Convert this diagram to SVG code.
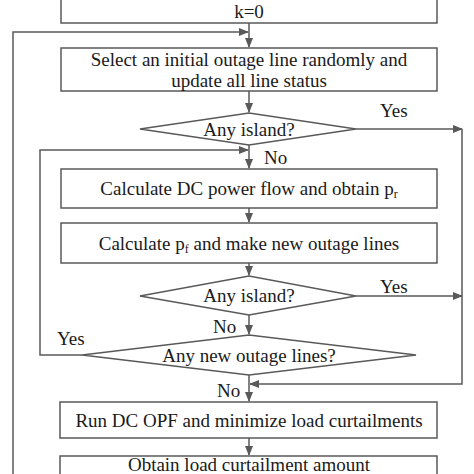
<svg xmlns="http://www.w3.org/2000/svg" width="474" height="474" viewBox="0 0 474 474">
<style>
.box{fill:#fff;stroke:#595959;stroke-width:1.5}
.ln{fill:none;stroke:#595959;stroke-width:1.5}
text{font-family:"Liberation Serif","Times New Roman",serif;font-size:19px;fill:#1a1a1a}
.c{text-anchor:middle}
</style>
<defs>
<marker id="ah" markerWidth="10" markerHeight="8" refX="9" refY="4" orient="auto" markerUnits="userSpaceOnUse">
<path d="M0,0 L10,4 L0,8 Z" fill="#595959"/>
</marker>
</defs>
<rect width="474" height="474" fill="#fff"/>
<g id="connectors">
<line class="ln" x1="249" y1="23" x2="249" y2="47" marker-end="url(#ah)"/>
<polyline class="ln" points="13,474 13,32 248,32" marker-end="url(#ah)"/>
<line class="ln" x1="249" y1="91" x2="249" y2="112" marker-end="url(#ah)"/>
<polyline class="ln" points="356,129 462,129" marker-end="url(#ah)"/>
<polyline class="ln" points="462,129 462,384 250,384" marker-end="url(#ah)"/>
<line class="ln" x1="249" y1="145" x2="249" y2="168" marker-end="url(#ah)"/>
<polyline class="ln" points="82,355 40,355 40,150 248,150" marker-end="url(#ah)"/>
<line class="ln" x1="249" y1="208" x2="249" y2="222" marker-end="url(#ah)"/>
<line class="ln" x1="249" y1="263" x2="249" y2="275" marker-end="url(#ah)"/>
<polyline class="ln" points="356,296 462,296" marker-end="url(#ah)"/>
<line class="ln" x1="249" y1="315" x2="249" y2="334" marker-end="url(#ah)"/>
<line class="ln" x1="249" y1="375" x2="249" y2="401" marker-end="url(#ah)"/>
<line class="ln" x1="249" y1="438" x2="249" y2="455" marker-end="url(#ah)"/>
<text x="380" y="117">Yes</text>
<text x="264" y="164">No</text>
<text x="380" y="293">Yes</text>
<text x="213" y="333">No</text>
<text x="57" y="345">Yes</text>
<text x="217" y="397">No</text>
</g>
<g id="n0">
<rect class="box" x="61" y="-10" width="376" height="33"/>
<text class="c" x="249" y="18">k=0</text>
</g>
<g id="n1">
<rect class="box" x="61" y="48" width="376" height="43"/>
<text class="c" x="249" y="66">Select an initial outage line randomly and</text>
<text class="c" x="249" y="87">update all line status</text>
</g>
<g id="d1">
<polygon class="box" points="140,129 249,113 356,129 249,145"/>
<text class="c" x="249" y="136">Any island?</text>
</g>
<g id="n2">
<rect class="box" x="61" y="169" width="376" height="39"/>
<text class="c" x="249" y="195">Calculate DC power flow and obtain p<tspan font-size="12" dy="3">r</tspan></text>
</g>
<g id="n3">
<rect class="box" x="61" y="223" width="376" height="40"/>
<text class="c" x="249" y="250">Calculate p<tspan font-size="12" dy="3">f</tspan><tspan dy="-3"> and make new outage lines</tspan></text>
</g>
<g id="d2">
<polygon class="box" points="140,296 249,276 356,296 249,315"/>
<text class="c" x="249" y="302">Any island?</text>
</g>
<g id="d3">
<polygon class="box" points="82,355 249,335 416,355 249,375"/>
<text class="c" x="249" y="362">Any new outage lines?</text>
</g>
<g id="n4">
<rect class="box" x="60" y="402" width="377" height="36"/>
<text class="c" x="249" y="427">Run DC OPF and minimize load curtailments</text>
</g>
<g id="n5">
<rect class="box" x="60" y="456" width="377" height="30"/>
<text class="c" x="249" y="471">Obtain load curtailment amount</text>
</g>
</svg>
